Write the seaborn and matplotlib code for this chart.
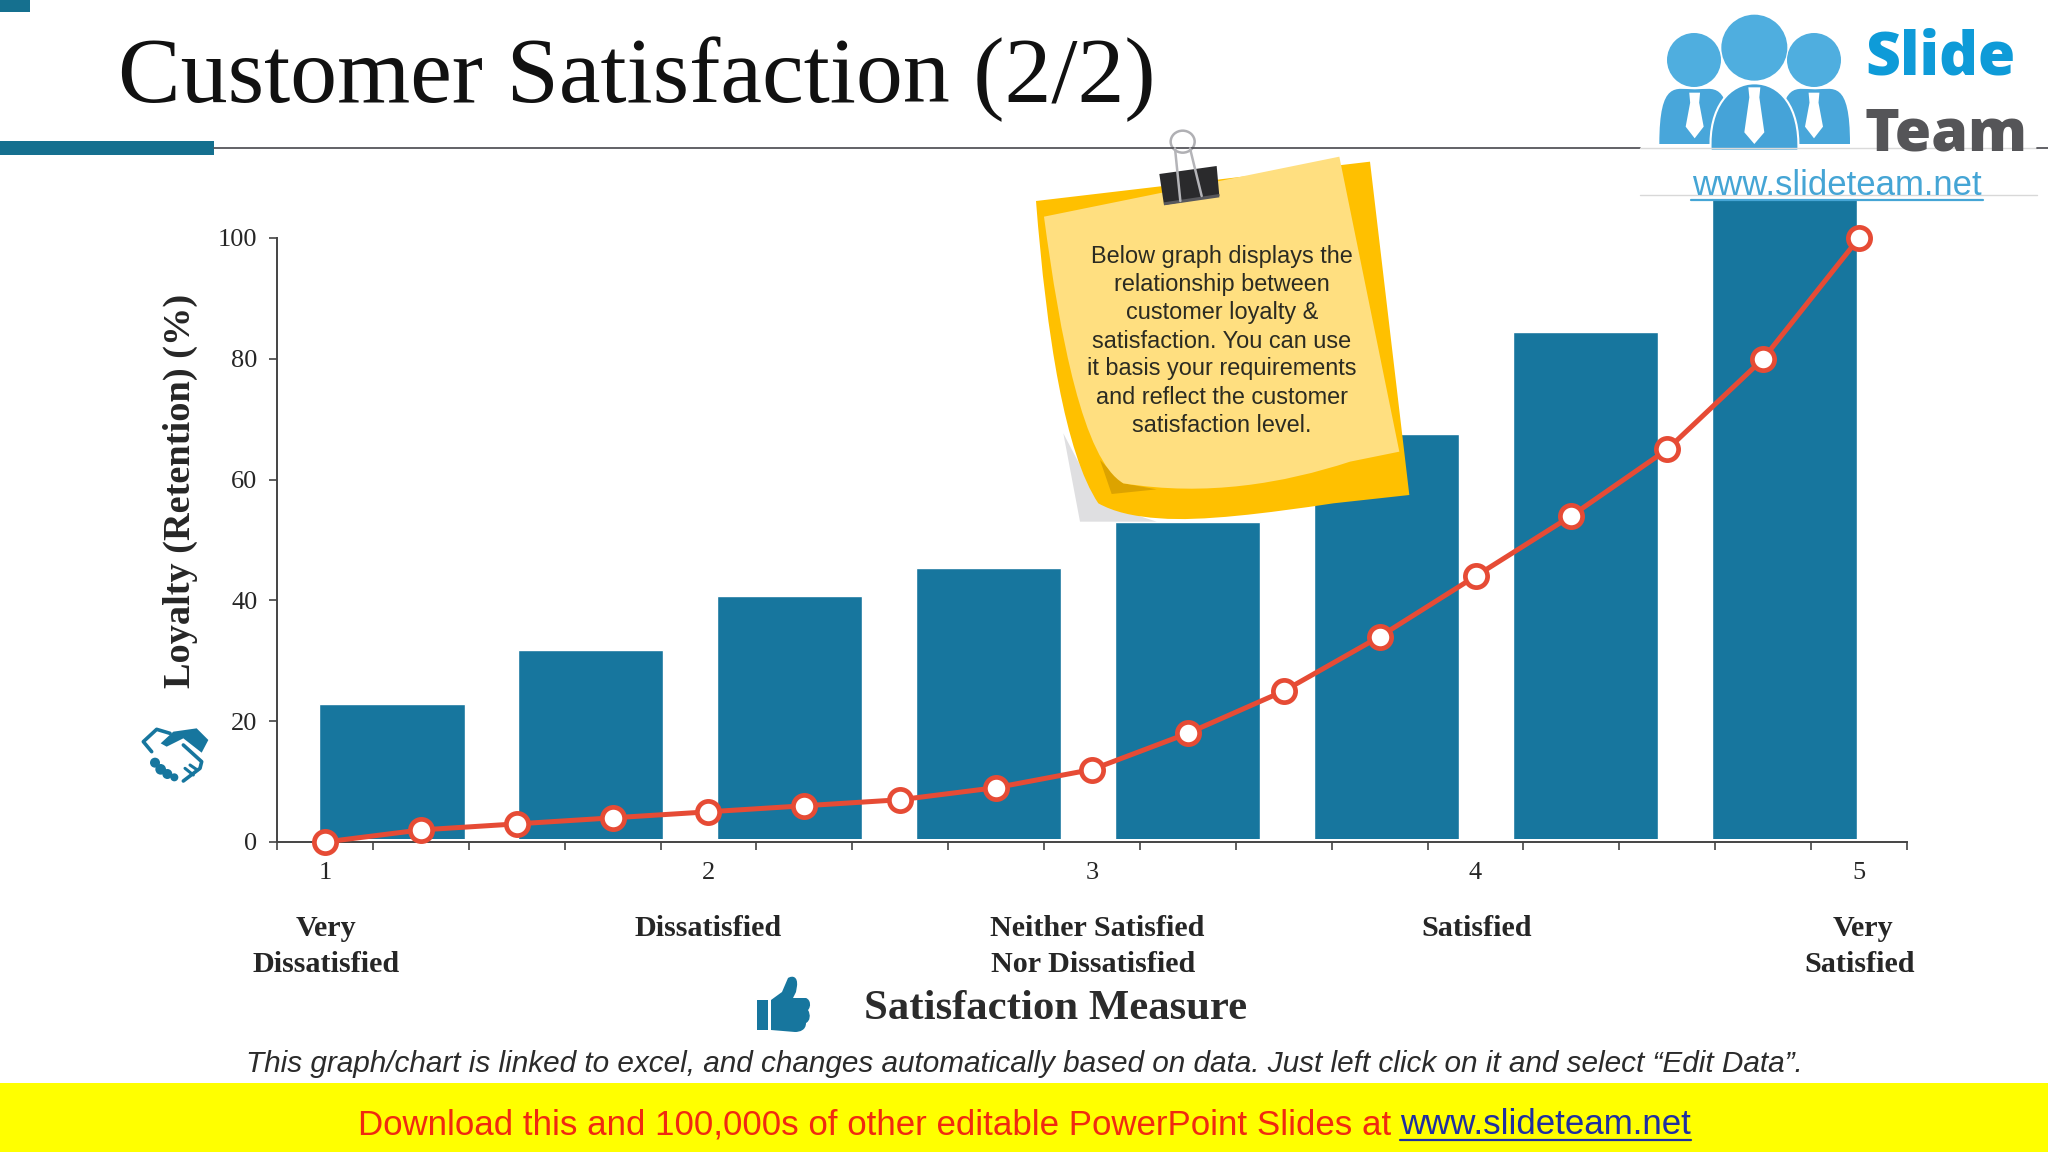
import numpy as np
import pandas as pd
import matplotlib
matplotlib.use("Agg")
import matplotlib.pyplot as plt
from matplotlib.patches import Rectangle, Polygon, Circle, Ellipse, PathPatch
from matplotlib.path import Path
import seaborn as sns

bar_names = ["b1", "b2", "b3", "b4", "b5", "b6", "b7", "b8"]
bar_values = [22.9, 31.8, 40.8, 45.3, 53.0, 67.6, 84.4, 106.6]
line_positions = list(range(17))
line_values = [0, 2, 3, 4, 5, 6, 7, 9, 12, 18, 25, 34, 44, 54, 65, 80, 100]
scale_labels = ["1", "2", "3", "4", "5"]
y_ticks = [0, 20, 40, 60, 80, 100]

TEAL = "#17769E"
RED = "#E64B35"
DARK = "#262626"
W, H = 2048, 1152

sns.set_theme(style="white")
plt.rcParams["font.family"] = ["Liberation Serif", "DejaVu Serif"]
SANS = ["Liberation Sans", "DejaVu Sans"]
SERIF = ["Liberation Serif", "DejaVu Serif"]

fig = plt.figure(figsize=(W / 100, H / 100), dpi=100, facecolor="white")


def rect(l, t, r, b):
    return [l / W, 1 - b / H, (r - l) / W, (b - t) / H]


# bars
ax_bar = fig.add_axes(rect(277, 198, 1907, 839), zorder=1)
sns.barplot(data=pd.DataFrame({"n": bar_names, "v": bar_values}), x="n", y="v",
            color=TEAL, saturation=1, width=0.73, ax=ax_bar)
ax_bar.set_xlim(-0.578, 7.617)
ax_bar.set_ylim(0.5, 106.6)
ax_bar.axis("off")

# line and axes
ax = fig.add_axes(rect(277, 238, 1907, 842), zorder=2)
ax.patch.set_alpha(0)
sns.lineplot(data=pd.DataFrame({"x": line_positions, "y": line_values}), x="x", y="y",
             color=RED, linewidth=3.6, marker="o", markersize=16,
             markerfacecolor="white", markeredgecolor=RED, markeredgewidth=3.4,
             clip_on=False, zorder=5, ax=ax, errorbar=None)
ax.set_xlim(-0.5, 16.5)
ax.set_ylim(0, 100)
ax.set_xlabel("")
ax.set_ylabel("")
sns.despine(ax=ax)
for s in ("left", "bottom"):
    ax.spines[s].set_color("#444444")
    ax.spines[s].set_linewidth(1.4)
ax.set_yticks(y_ticks)
ax.set_xticks(np.arange(-0.5, 17, 1))
ax.set_xticklabels([])
ax.set_xticks(line_positions[::4], scale_labels, minor=True)
ax.tick_params(axis="y", which="major", left=True, length=6, width=1.2, color="#444444",
               labelsize=19, labelcolor=DARK, pad=8)
ax.tick_params(axis="x", which="major", bottom=True, length=6, width=1.2, color="#444444")
ax.tick_params(axis="x", which="minor", bottom=False, length=0, labelsize=19,
               labelcolor=DARK, pad=14.5)

# overlay in pixel units
ov = fig.add_axes([0, 0, 1, 1], zorder=3)
ov.set_xlim(0, W)
ov.set_ylim(H, 0)
ov.axis("off")
ov.patch.set_alpha(0)


def bez(points, **kw):
    verts, codes = [], []
    for i, p in enumerate(points):
        verts.append(p[0])
        codes.append(Path.MOVETO if i == 0 else p[1])
    verts.append(points[0][0])
    codes.append(Path.CLOSEPOLY)
    pp = PathPatch(Path(verts, codes), **kw)
    ov.add_patch(pp)
    return pp


L, C = Path.LINETO, Path.CURVE4

# header
ov.add_patch(Rectangle((0, 0), 30, 12, color="#15708F", lw=0))
ov.add_patch(Rectangle((0, 141), 214, 14, color="#15708F", lw=0))
ov.plot([214, 1640], [148, 148], color="#55555a", lw=1.3)
ov.text(118, 102, "Customer Satisfaction (2/2)", fontsize=67.6, color="#111111",
        family=SERIF, ha="left", va="baseline")


# sticky note
def z(x, y):
    return (1000 + x / 3, 120 + y / 3)


ov.add_patch(Polygon([z(190, 940), z(240, 1205), z(470, 1205), z(300, 1150)], color="#DFDFE1", lw=0))
bez([(z(108, 243), None), (z(1110, 125), L), (z(1228, 1125), L), (z(1000, 1150), L),
     (z(800, 1180), C), (z(600, 1205), C), (z(480, 1195), C),
     (z(400, 1190), C), (z(340, 1175), C), (z(295, 1150), C),
     (z(195, 1000), C), (z(140, 650), C), (z(108, 243), C)],
    facecolor="#FFC000", lw=0)
ov.add_patch(Polygon([z(300, 1020), z(335, 1122), z(470, 1108), z(370, 1090)], color="#DCA300", lw=0))
bez([(z(132, 290), None), (z(1018, 110), L), (z(1198, 995), L), (z(1050, 1025), L),
     (z(850, 1090), C), (z(620, 1130), C), (z(370, 1090), C),
     (z(250, 1020), C), (z(180, 650), C), (z(132, 290), C)],
    facecolor="#FFDF80", lw=0)
# binder clip
ov.add_patch(Polygon([z(478, 162), z(650, 138), z(658, 228), z(492, 255)], color="#2A2A2C", lw=0))
ov.add_patch(Polygon([z(492, 247), z(658, 222), z(658, 232), z(492, 256)], color="#58585C", lw=0))
ov.add_patch(Ellipse(z(548, 65), 24, 22, fill=False, ec="#B0B0B4", lw=1.8))
ov.plot(*zip(z(525, 85), z(541, 243)), color="#B4B4B8", lw=1.8)
ov.plot(*zip(z(570, 85), z(605, 228)), color="#B4B4B8", lw=1.8)

note_lines = ["Below graph displays the", "relationship between", "customer loyalty &",
              "satisfaction. You can use", "it basis your requirements",
              "and reflect the customer", "satisfaction level."]
note_y = [257, 285, 313, 341, 369, 397, 425]
for t, y in zip(note_lines, note_y):
    ov.text(1222, y, t, fontsize=16.9, color="#2B2B22", family=SANS, ha="center", va="center")

# logo
ov.add_patch(Rectangle((1640, 0), 397, 195, color="white", lw=0))
ov.plot([1640, 2037], [148, 148], color="#DADADA", lw=1)
ov.plot([1640, 2037], [195, 195], color="#D8D8D8", lw=1)
ov.plot([2037, 2048], [148, 148], color="#55555a", lw=1.3)


def lz(x, y):
    return (1620 + x / 3, y / 3)


BLUE = "#4FAEDF"
for cx, cy, r in [(222, 180, 81), (582, 180, 81)]:
    ov.add_patch(Circle(lz(cx, cy), r / 3, color=BLUE, lw=0))
for x0, x1, top, bot in [(118, 330, 268, 432), (480, 690, 268, 432)]:
    bez([(lz(x0, bot), None), (lz(x0, top - 30), C), (lz(x0 + 50, top), C), (lz((x0 + x1) / 2, top), C),
         (lz(x1 - 50, top), C), (lz(x1, top - 30), C), (lz(x1, bot), C)], facecolor="#48A6DA", lw=0)
ov.add_patch(Circle(lz(403, 143), 101 / 3, color="white", lw=0))
ov.add_patch(Circle(lz(403, 143), 99 / 3, color=BLUE, lw=0))
bez([(lz(272, 452), None), (lz(265, 320), C), (lz(330, 250), C), (lz(403, 250), C),
     (lz(480, 250), C), (lz(540, 320), C), (lz(535, 452), C)],
    facecolor="#45A3D8", edgecolor="white", lw=1.5)
for cx, top, hw, bot in [(224, 278, 27, 415), (403, 262, 30, 432), (582, 278, 27, 415)]:
    ov.add_patch(Polygon([lz(cx - hw * .6, top), lz(cx + hw * .6, top), lz(cx + hw * .5, top + 30),
                          lz(cx + hw, bot - 35), lz(cx, bot), lz(cx - hw, bot - 35),
                          lz(cx - hw * .5, top + 30)], color="white", lw=0))
ov.text(*lz(735, 224), "Slide", fontsize=43.5, fontweight=800, color="#0E9BD8",
        family=["Open Sans", "DejaVu Sans"], ha="left", va="baseline")
ov.text(*lz(735, 452), "Team", fontsize=42.5, fontweight=800, color="#555558",
        family=["Open Sans", "DejaVu Sans"], ha="left", va="baseline")
ov.text(*lz(650, 585), "www.slideteam.net", fontsize=25, color="#45A5D5", family=SANS, ha="center", va="baseline")
ov.plot(*zip(lz(213, 600), lz(1088, 600)), color="#45A5D5", lw=1.6)

# category labels
cat_x = [326, 708, 1097, 1477, 1863]
cat_rows = [("Very", "Dissatisfied"), ("Dissatisfied", ""), ("Neither Satisfied", "Nor Dissatisfied"),
            ("Satisfied", ""), ("Very", "Satisfied")]
cat_x2 = [326, 708, 1093, 1477, 1860]
for x, x2, (a, b) in zip(cat_x, cat_x2, cat_rows):
    ov.text(x, 929, a, fontsize=21.7, fontweight="bold", color=DARK, family=SERIF, ha="center", va="center")
    if b:
        ov.text(x2, 964, b, fontsize=21.7, fontweight="bold", color=DARK, family=SERIF, ha="center", va="center")

ov.text(1056, 1009, "Satisfaction Measure", fontsize=30.8, fontweight="bold", color="#2B2B2B", family=SERIF,
        ha="center", va="center")
ov.text(180, 491, "Loyalty (Retention) (%)", fontsize=27.6, fontweight="bold", color=DARK, family=SERIF,
        rotation=90, ha="center", va="center")

# thumb icon
ov.add_patch(Rectangle((757, 1000), 11, 30, color=TEAL, lw=0))
bez([((771, 1000), None), ((782, 992), L), ((788, 978), L),
     ((793, 975), C), ((798, 977), C), ((797, 986), C),
     ((796, 992), L), ((793, 998), L), ((806, 998), L), ((811, 1000), C), ((811, 1007), C), ((808, 1010), C),
     ((811, 1015), C), ((810, 1021), C), ((806, 1023), C), ((806, 1030), C), ((800, 1032), C), ((795, 1032), C),
     ((771, 1030), L)], facecolor=TEAL, lw=0)


# handshake icon
def hz(x, y):
    return (120 + x / 3, 680 + y / 3)


ov.plot(*zip(hz(95, 215), hz(70, 185), hz(110, 148), hz(150, 160)), color=TEAL, lw=2.6, solid_joinstyle="round")
bez([(hz(122, 190), None), (hz(160, 155), L), (hz(230, 145), L), (hz(265, 180), L), (hz(245, 218), L),
     (hz(190, 175), L), (hz(140, 200), L)], facecolor=TEAL, lw=0)
ov.plot(*zip(hz(190, 195), hz(245, 245), hz(240, 265), hz(190, 303)), color=TEAL, lw=2.6, solid_joinstyle="round")
ov.plot(*zip(hz(195, 265), hz(220, 285)), color=TEAL, lw=2.2)
ov.plot(*zip(hz(210, 255), hz(232, 270)), color=TEAL, lw=2.2)
for cx, cy, r in [(105, 248, 15), (122, 268, 16), (142, 282, 15), (163, 292, 12)]:
    ov.add_patch(Circle(hz(cx, cy), r / 3, color=TEAL, lw=0))

# footer
ov.text(1024, 1064, "This graph/chart is linked to excel, and changes automatically based on data. "
        "Just left click on it and select \u201cEdit Data\u201d.", fontsize=21.4, style="italic",
        color="#2B2B2B", family=SANS, ha="center", va="center")
ov.add_patch(Rectangle((0, 1083), W, 69, color="#FFFF00", lw=0))
ov.text(358, 1125, "Download this and 100,000s of other editable PowerPoint Slides at", fontsize=25.1,
        color="#F02A10", family=SANS, ha="left", va="center")
ov.text(1400, 1125, "www.slideteam.net", fontsize=25.1, color="#1F2FA0", family=SANS, ha="left", va="center")
ov.plot([1400, 1691], [1140, 1140], color="#1F2FA0", lw=1.6)

fig.savefig("out.png", dpi=100)
